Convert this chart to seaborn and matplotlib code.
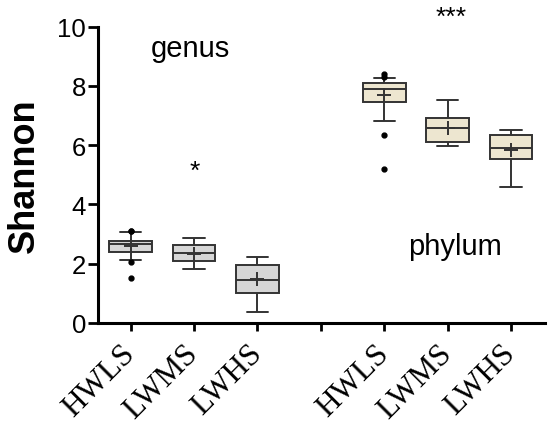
import numpy as np
import pandas as pd
import matplotlib
matplotlib.use("Agg")
import matplotlib.pyplot as plt
import seaborn as sns

# ---- data ----
groups = ["HWLS", "LWMS", "LWHS"]
levels = ["genus", "phylum"]

genus_HWLS = [1.52, 2.07, 2.125, 2.36, 2.385, 2.385, 2.55, 2.62, 2.65, 2.66,
              2.66, 2.68, 2.70, 2.73, 2.755, 2.755, 2.935, 3.06, 3.09, 3.11]
genus_LWMS = [1.83, 1.83, 1.83, 1.90, 2.10, 2.10, 2.12, 2.15, 2.22, 2.36,
              2.36, 2.38, 2.42, 2.45, 2.62, 2.62, 2.70, 2.87, 2.87, 2.87]
genus_LWHS = [0.38, 0.38, 0.38, 0.98, 1.01, 1.01, 1.36, 1.38, 1.42, 1.44,
              1.44, 1.85, 1.88, 1.94, 1.96, 1.96, 2.14, 2.23, 2.23, 2.23]
phylum_HWLS = [5.20, 6.33, 6.82, 7.40, 7.46, 7.46, 7.85, 7.88, 7.89, 7.89,
               7.89, 8.05, 8.08, 8.09, 8.09, 8.09, 8.20, 8.25, 8.29, 8.41]
phylum_LWMS = [5.97, 5.97, 5.97, 6.03, 6.09, 6.09, 6.15, 6.30, 6.45, 6.59,
               6.59, 6.62, 6.68, 6.75, 6.90, 6.90, 6.96, 7.53, 7.53, 7.53]
phylum_LWHS = [4.60, 4.60, 4.60, 5.45, 5.53, 5.53, 5.75, 5.80, 5.88, 5.91,
               5.91, 6.12, 6.20, 6.25, 6.33, 6.33, 6.45, 6.52, 6.52, 6.52]

tick_labels = ["HWLS", "LWMS", "LWHS", "", "HWLS", "LWMS", "LWHS"]
series = {
    ("genus", "HWLS"): genus_HWLS,
    ("genus", "LWMS"): genus_LWMS,
    ("genus", "LWHS"): genus_LWHS,
    ("phylum", "HWLS"): phylum_HWLS,
    ("phylum", "LWMS"): phylum_LWMS,
    ("phylum", "LWHS"): phylum_LWHS,
}

rows = []
for (lvl, g), vals in series.items():
    for v in vals:
        rows.append({"pos": f"{lvl} {g}", "level": lvl, "Shannon": v})
df = pd.DataFrame(rows)
order = ["genus HWLS", "genus LWMS", "genus LWHS", "gap",
         "phylum HWLS", "phylum LWMS", "phylum LWHS"]

# ---- style ----
sns.set_theme(style="ticks")
plt.rcParams["font.family"] = ["Liberation Sans", "DejaVu Sans"]

fig = plt.figure(figsize=(5.5, 4.31), dpi=100)
ax = fig.add_axes([0.178, 0.2483, 0.813, 0.6878])

line_c = "#333333"
sns.boxplot(
    data=df, x="pos", y="Shannon", hue="level", order=order,
    palette={"genus": "#d6d6d6", "phylum": "#f2e9cb"},
    dodge=False, legend=False, width=0.67, whis=[10, 90],
    linecolor=line_c, linewidth=1.4,
    showmeans=True,
    meanprops=dict(marker="+", markeredgecolor=line_c, markerfacecolor=line_c,
                   markersize=10, markeredgewidth=1.4),
    flierprops=dict(marker="o", markersize=3.5, markerfacecolor="black",
                    markeredgecolor="black"),
    ax=ax,
)

ax.set_xlim(-0.516, 6.535)
ax.set_ylim(0, 10)
ax.set_yticks([0, 2, 4, 6, 8, 10])
ax.set_xticks(range(7))
ax.set_xticklabels(tick_labels, rotation=45, ha="right", va="center",
                   rotation_mode="anchor", fontfamily="Liberation Serif",
                   fontsize=22.5)
ax.set_xlabel("")
ax.tick_params(axis="y", labelsize=18.5, length=7.5, width=2.0, pad=1, colors="black")
ax.tick_params(axis="x", length=5.5, width=2.0, pad=13.0, colors="black")
for lab in ax.get_yticklabels():
    lab.set_color("black")

sns.despine(ax=ax)
for s in ["left", "bottom"]:
    ax.spines[s].set_linewidth(2.2)
    ax.spines[s].set_color("black")

ax.set_ylabel("Shannon", fontsize=26, fontweight="bold", color="black")
ax.yaxis.set_label_coords(-0.125, 0.5)

ax.text(0.315, 9.0, "genus", fontsize=21, ha="left", va="baseline", color="black")
ax.text(4.37, 2.33, "phylum", fontsize=21, ha="left", va="baseline", color="black")
ax.text(1.01, 4.91, "*", fontsize=19, ha="center", va="baseline", color="black")
ax.text(5.06, 10.1, "***", fontsize=19, ha="center", va="baseline", color="black")

fig.savefig("out.png", dpi=100)
